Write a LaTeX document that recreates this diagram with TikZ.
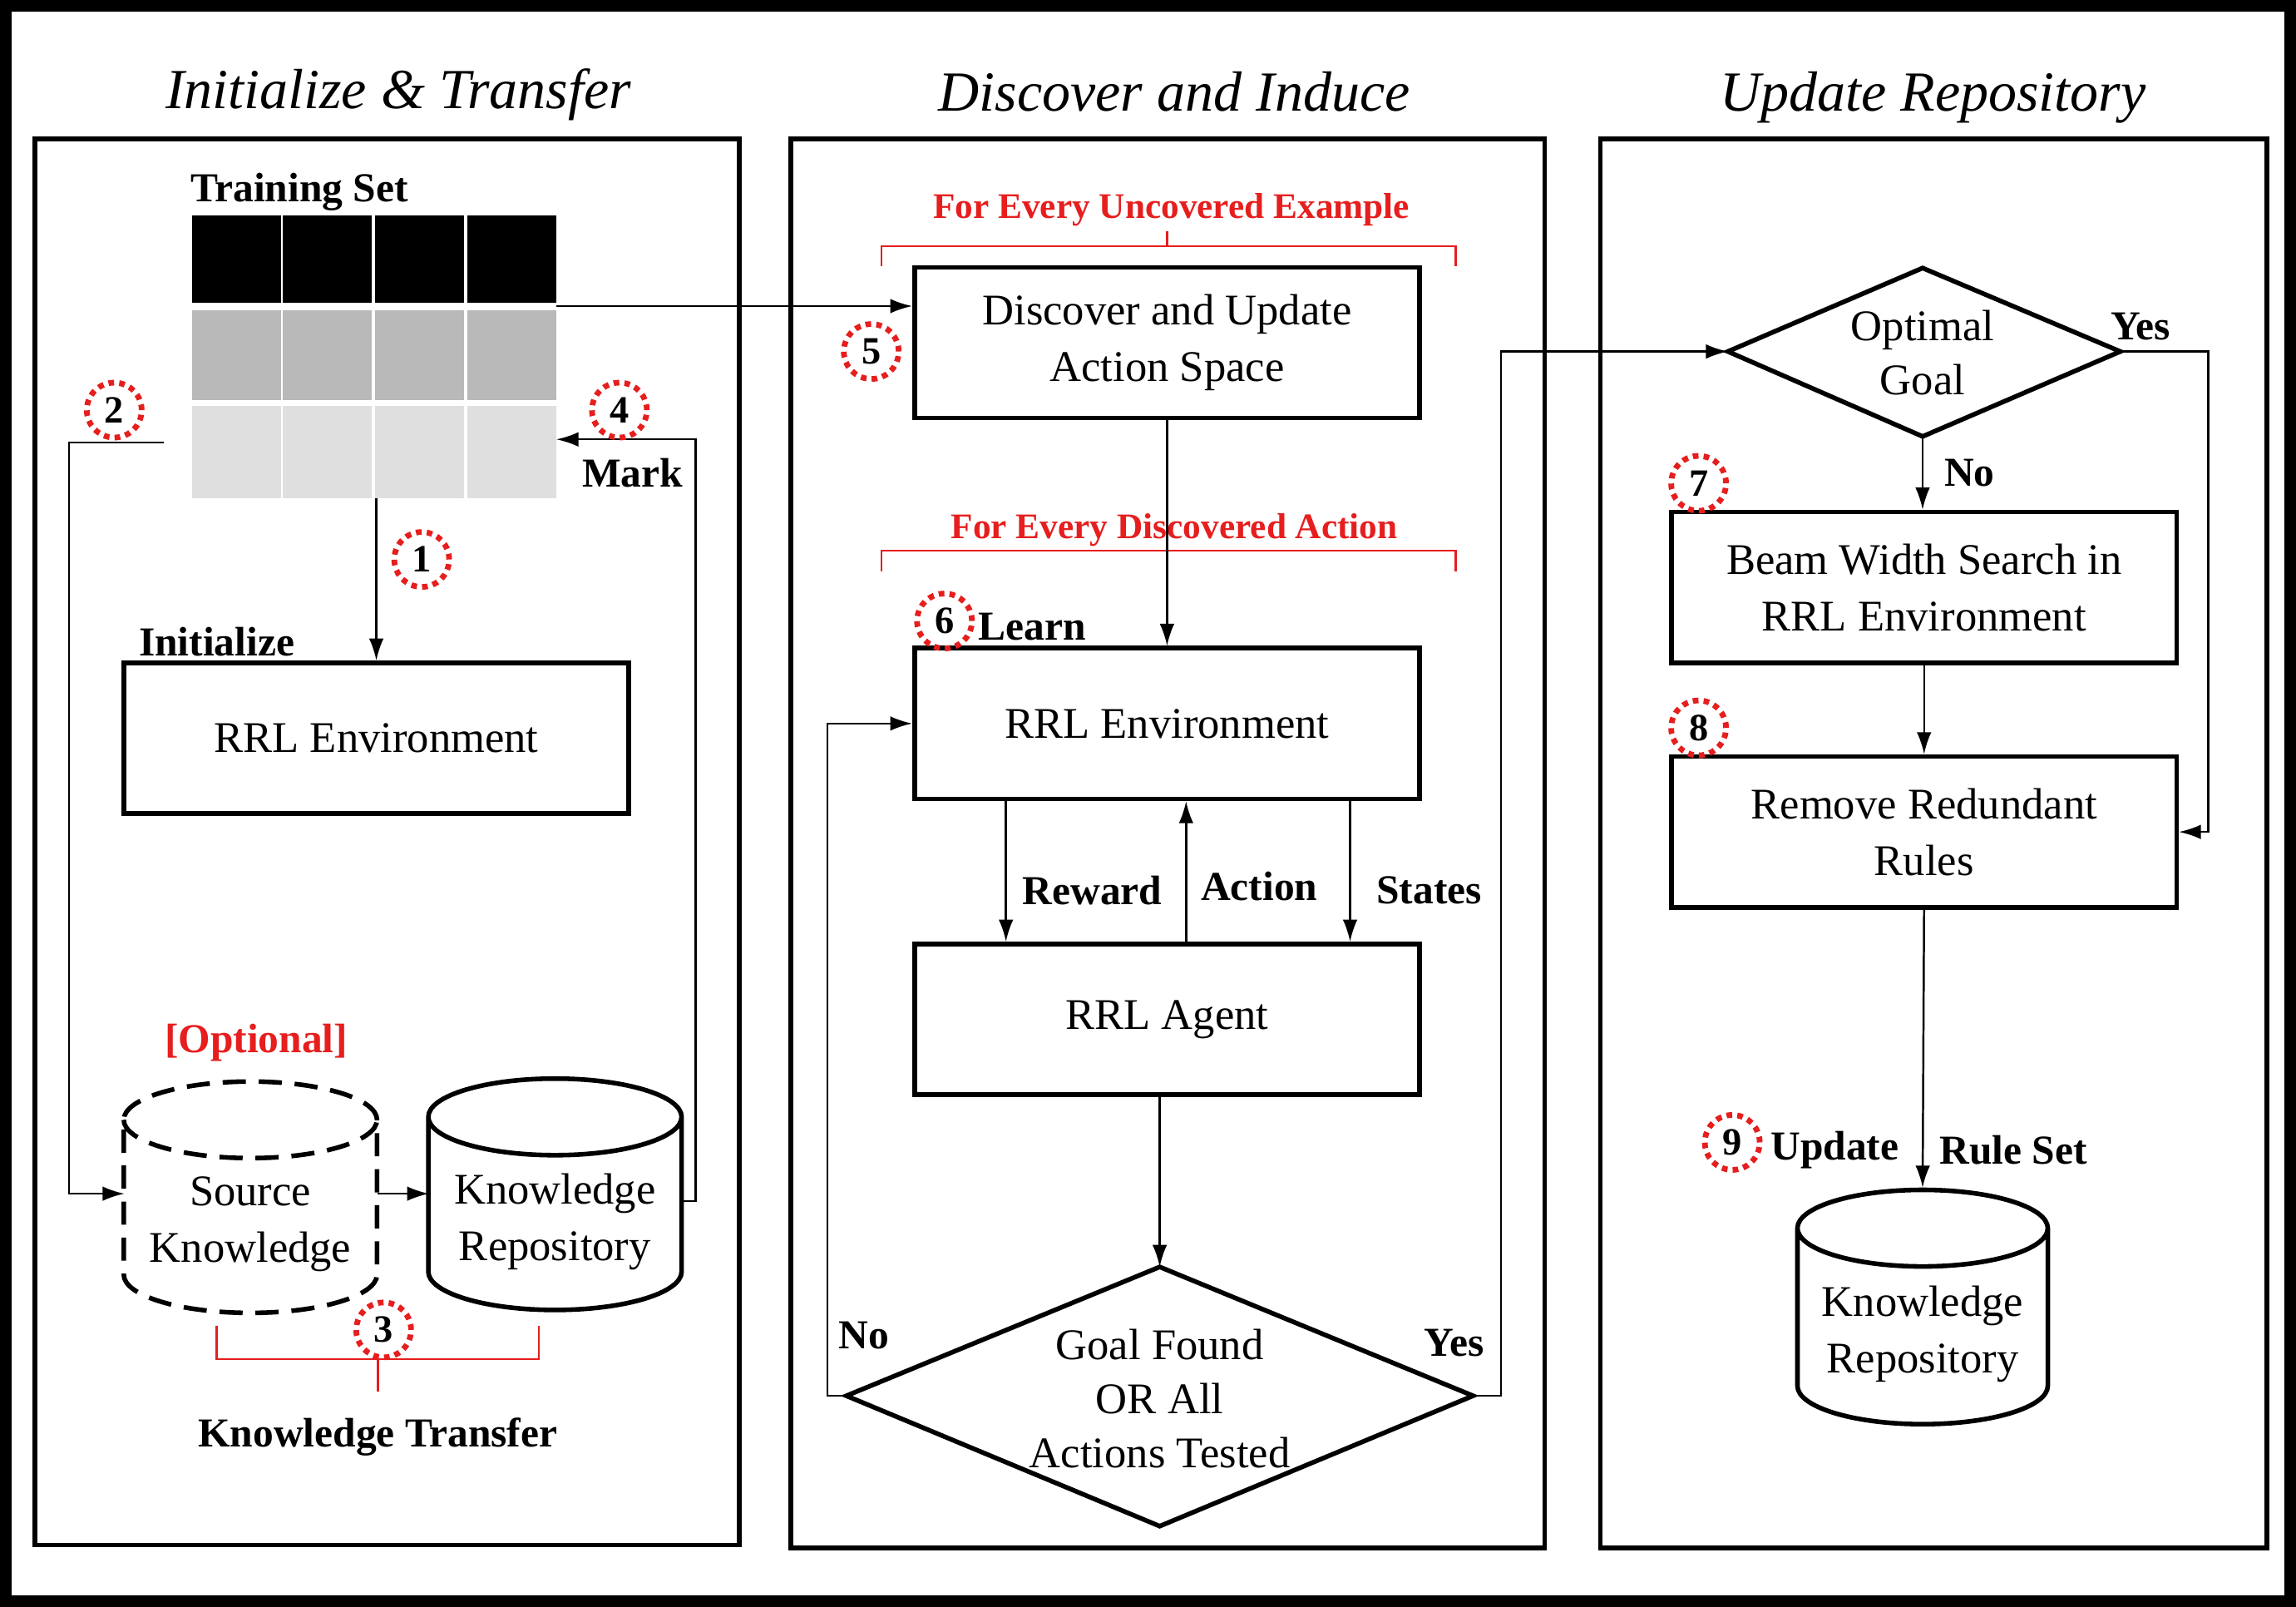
\documentclass[tikz,border=0pt]{standalone}
\usepackage{fontspec}
\setmainfont{Liberation Serif}
\usepackage{tikz}
\usetikzlibrary{positioning,shapes.geometric,arrows.meta}
\definecolor{rred}{RGB}{230,30,30}
\tikzset{panel/.style={draw,line width=1.8pt},
  box node/.style={draw,line width=1.8pt,minimum width=6.9cm,minimum height=2.06cm,align=center,font=\fontsize{17}{22}\selectfont},
  tag/.style={font=\fontsize{16}{19}\selectfont\bfseries},
  redtag/.style={font=\fontsize{14}{17}\selectfont\bfseries,text=rred},
  num/.style={circle,draw=rred,dotted,line width=2.2pt,minimum size=0.75cm,inner sep=0pt,font=\fontsize{15}{17}\selectfont\bfseries},
  title/.style={font=\fontsize{22}{26}\selectfont\itshape,anchor=base},
  store/.style={cylinder,shape border rotate=90,aspect=0.35,draw,line width=1.8pt,minimum width=3.46cm,minimum height=3.16cm,align=center,font=\fontsize{17}{22}\selectfont},
  link/.style={-{Latex[length=3mm,width=2mm]},line width=0.8pt},
  brace/.style={draw=rred,line width=0.8pt},}
\begin{document}
\begin{tikzpicture}[x=0.02cm,y=-0.02cm]
\useasboundingbox (0,0) rectangle (1568,1097);
\draw[line width=0.16cm] (4,4) rectangle (1564,1093);
% panels
\draw[panel] (24,95) rectangle (505,1055);
\draw[panel] (540,95) rectangle (1055,1057);
\draw[panel] (1093,95) rectangle (1548,1057);
\node[title] (t1) at (272,74) {Initialize \& Transfer};
\node[title] (t2) at (802,76) {Discover and Induce};
\node[title] (t3) at (1320,76) {Update Repository};

% training set
\foreach \c [count=\i] in {130,192,255,318} {
  \fill[black] (\c+1,147) rectangle (\c+62,207);
  \fill[gray!55] (\c+1,212) rectangle (\c+62,273);
  \fill[gray!25] (\c+1,277) rectangle (\c+62,340);
}
\node[tag,anchor=south west,inner sep=1pt] (ts) at (128,146) {Training Set};
\coordinate (tsr) at (380,209);
\coordinate (tsm) at (380,300);
\coordinate (tsl) at (112,302);
\coordinate (tsb) at (257,340);

\node[box node] (env1) at (257,504) {RRL Environment};
\node[store,dash pattern=on 9pt off 5pt] (src) at (171,836) {Source\\Knowledge};
\node[store] (kr1) at (379,834) {Knowledge\\Repository};
\node[redtag,font=\fontsize{16}{19}\selectfont\bfseries] (opt) at (175,712) {[Optional]};
\coordinate (srcin) at (85,815);
\coordinate (srcout) at (258,815);
\coordinate (krin) at (293,815);
\coordinate (krout) at (466,820);

\draw[link] (tsb) -- (env1.north);
\draw[link] (tsl) -- (47,302) |- (srcin);
\draw[link] (krout) -- (475,820) |- (tsm);
\draw[link] (srcout) -- (krin);
\node[tag] (lini) at (148,438) {Initialize};
\node[tag] (lmark) at (432,323) {Mark};
\node[num] (n1) at (288,382) {1};
\node[num] (n2) at (78,280) {2};
\node[num] (n4) at (423,280) {4};
\draw[brace] (148,905) -- (148,928) -- (368,928) -- (368,905) (258,928) -- (258,950);
\node[num] (n3) at (262,908) {3};
\node[tag] (lkt) at (258,981) {Knowledge Transfer};

% discover and induce
\node[box node] (disc) at (797,234) {Discover and Update\\Action Space};
\node[box node] (env2) at (797,494) {RRL Environment};
\node[box node] (agent) at (797,696) {RRL Agent};
\coordinate (gt) at (792,865);
\coordinate (gl) at (578,953);
\coordinate (gr) at (1006,953);
\coordinate (gb) at (792,1042);
\draw[line width=1.8pt] (gt) -- (gr) -- (gb) -- (gl) -- cycle;
\node[align=center,font=\fontsize{17}{21}\selectfont] (goal) at (792,955) {Goal Found\\OR All\\Actions Tested};
\draw[brace] (602,182) -- (602,168) -- (994,168) -- (994,182) (797,168) -- (797,158);
\node[redtag] (lue) at (800,143) {For Every Uncovered Example};
\draw[brace] (602,390) -- (602,376) -- (994,376) -- (994,390) (797,376) -- (797,366);
\node[redtag,fill=white,inner sep=1pt] (lda) at (802,362) {For Every Discovered Action};
\draw[link] (tsr) -- (disc.west |- tsr);
\draw[link] (disc.south) -- (env2.north);
\draw[link] (env2.south -| 687,0) -- (agent.north -| 687,0);
\draw[link] (agent.north -| 810,0) -- (env2.south -| 810,0);
\draw[link] (env2.south -| 922,0) -- (agent.north -| 922,0);
\draw[link] (agent.south -| gt) -- (gt);
\draw[link] (gl) -- (565,953) |- (env2.west);
\node[tag] (lrew) at (746,608) {Reward};
\node[tag] (lact) at (860,605) {Action};
\node[tag] (lsta) at (976,608) {States};
\node[tag] (lno1) at (590,912) {No};
\node[tag] (lyes1) at (993,917) {Yes};
\node[num] (n5) at (595,240) {5};
\node[num] (n6) at (645,424) {6};
\node[tag] (llearn) at (705,428) {Learn};

% update repository
\coordinate (ol) at (1180,240);
\coordinate (or) at (1448,240);
\coordinate (ot) at (1313,183);
\coordinate (ob) at (1313,298);
\draw[line width=1.8pt] (ol) -- (ot) -- (or) -- (ob) -- cycle;
\node[align=center,font=\fontsize{17}{21}\selectfont] (optg) at (1313,241) {Optimal\\Goal};
\node[box node] (beam) at (1314,401) {Beam Width Search in\\RRL Environment};
\node[box node] (rem) at (1314,568) {Remove Redundant\\Rules};
\node[store,minimum width=3.42cm,minimum height=3.2cm] (kr2) at (1313,911) {Knowledge\\Repository};
\draw[link] (gr) -- (1025,953) |- (ol);
\draw[link] (or) -- (1508,240) |- (rem.east);
\draw[link] (ob) -- (beam.north -| ob);
\draw[link] (beam.south) -- (rem.north);
\draw[link] (rem.south) -- (kr2.north);
\node[tag] (lyes2) at (1462,223) {Yes};
\node[tag] (lno2) at (1345,323) {No};
\node[tag] (lupd) at (1253,785) {Update};
\node[tag] (lrs) at (1375,785) {Rule Set};
\node[num] (n7) at (1160,330) {7};
\node[num] (n8) at (1160,497) {8};
\node[num] (n9) at (1183,780) {9};
\end{tikzpicture}
\end{document}
